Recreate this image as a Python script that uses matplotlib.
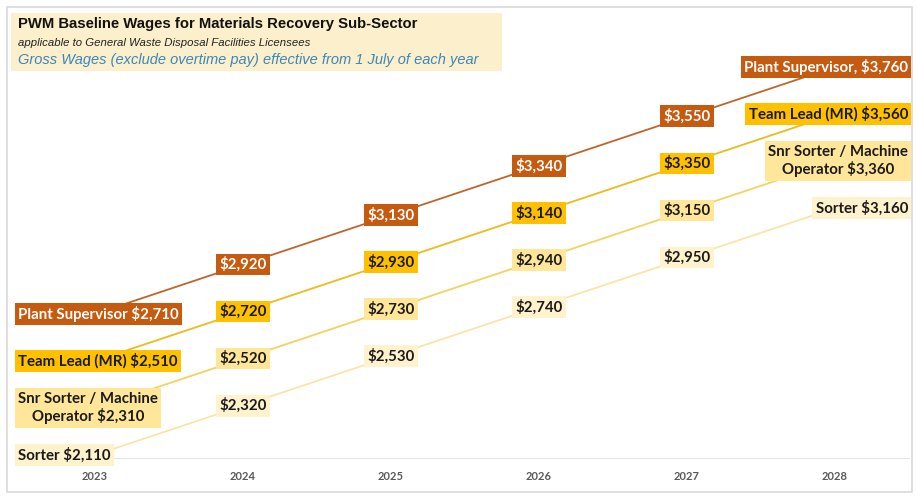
import matplotlib
matplotlib.use("Agg")
import matplotlib.pyplot as plt
from matplotlib.patches import Rectangle

years = ["2023", "2024", "2025", "2026", "2027", "2028"]
roles = ["Plant Supervisor", "Team Lead (MR)", "Snr Sorter / Machine Operator", "Sorter"]
plant_supervisor = [2710, 2920, 3130, 3340, 3550, 3760]
team_lead = [2510, 2720, 2930, 3140, 3350, 3560]
snr_sorter = [2310, 2520, 2730, 2940, 3150, 3360]
sorter = [2110, 2320, 2530, 2740, 2950, 3160]

# first / last labels carry the role name
first_labels = ["Plant Supervisor $2,710", "Team Lead (MR) $2,510",
                "Snr Sorter / Machine\nOperator $2,310", "Sorter $2,110"]
last_labels = ["Plant Supervisor, $3,760", "Team Lead (MR) $3,560",
               "Snr Sorter / Machine\nOperator $3,360", "Sorter $3,160"]

series = [plant_supervisor, team_lead, snr_sorter, sorter]
fills = ["#C55A11", "#FFC000", "#FFE699", "#FFF2CC"]
lines = ["#C0652B", "#EDBB1A", "#F3D262", "#F9E5A8"]
text_cols = ["white", "#1a1a1a", "#1a1a1a", "#1a1a1a"]

W, H = 917, 498
fig = plt.figure(figsize=(W / 100, H / 100), dpi=100)

# outer frame + title box
fig.patches.append(Rectangle((7 / W, 1 - 492 / H), 905 / W, 485 / H, transform=fig.transFigure,
                             fill=False, edgecolor="#D9D9D9", linewidth=1.2))
fig.patches.append(Rectangle((11 / W, 1 - 71 / H), 491 / W, 58 / H, transform=fig.transFigure,
                             facecolor="#FCEFCB", edgecolor="none"))
fig.text(18 / W, 1 - 24 / H, "PWM Baseline Wages for Materials Recovery Sub-Sector",
         fontsize=10.7, fontweight="bold", family="Liberation Sans", va="center", color="#111111")
fig.text(18 / W, 1 - 43 / H, "applicable to General Waste Disposal Facilities Licensees",
         fontsize=8.2, style="italic", family="Liberation Sans", va="center", color="#222222")
fig.text(18 / W, 1 - 60 / H, "Gross Wages (exclude overtime pay) effective from 1 July of each year",
         fontsize=10.5, style="italic", family="Liberation Sans", va="center", color="#3A86BE")

# axes: categories at 95 + 148*i px, value 2110 -> y 455, 3760 -> y 67
x0, x1 = 21, 909
y_top, y_bot = 20, 458
slope = (455 - 67) / (3760 - 2110)
vmin = 2110 - (y_bot - 455) / slope
vmax = 2110 + (455 - y_top) / slope
ax = fig.add_axes([x0 / W, 1 - y_bot / H, (x1 - x0) / W, (y_bot - y_top) / H])
ax.set_xlim(-0.5, len(years) - 0.5)
ax.set_ylim(vmin, vmax)
ax.set_facecolor("none")
for s in ("top", "left", "right"):
    ax.spines[s].set_visible(False)
ax.spines["bottom"].set_color("#E3E3E3")
ax.set_yticks([])
ax.set_xticks(range(len(years)), years)
ax.tick_params(axis="x", length=0, pad=9, labelsize=8, labelcolor="#595959")
for t in ax.get_xticklabels():
    t.set_fontweight("bold")
    t.set_family("Lato")

xs = list(range(len(years)))
for k, vals in enumerate(series):
    ax.plot(xs, vals, color=lines[k], linewidth=1.3, zorder=2, solid_capstyle="butt")
    for i, v in enumerate(vals):
        box = dict(boxstyle="square,pad=0.22", facecolor=fills[k], edgecolor="none")
        common = dict(xy=(i, v), textcoords="offset pixels", va="center", fontsize=10.8,
                      fontweight="bold", family="Lato", color=text_cols[k], bbox=box,
                      zorder=4, multialignment="center", annotation_clip=False)
        if i == 0:
            ax.annotate(first_labels[k], xytext=(-77, 0), ha="left", **common)
        elif i == len(vals) - 1:
            ax.annotate(last_labels[k], xytext=(73, 0), ha="right", **common)
        else:
            ax.annotate(f"${v:,}", xytext=(0, 0), ha="center", **common)

fig.savefig("out.png", dpi=100)
